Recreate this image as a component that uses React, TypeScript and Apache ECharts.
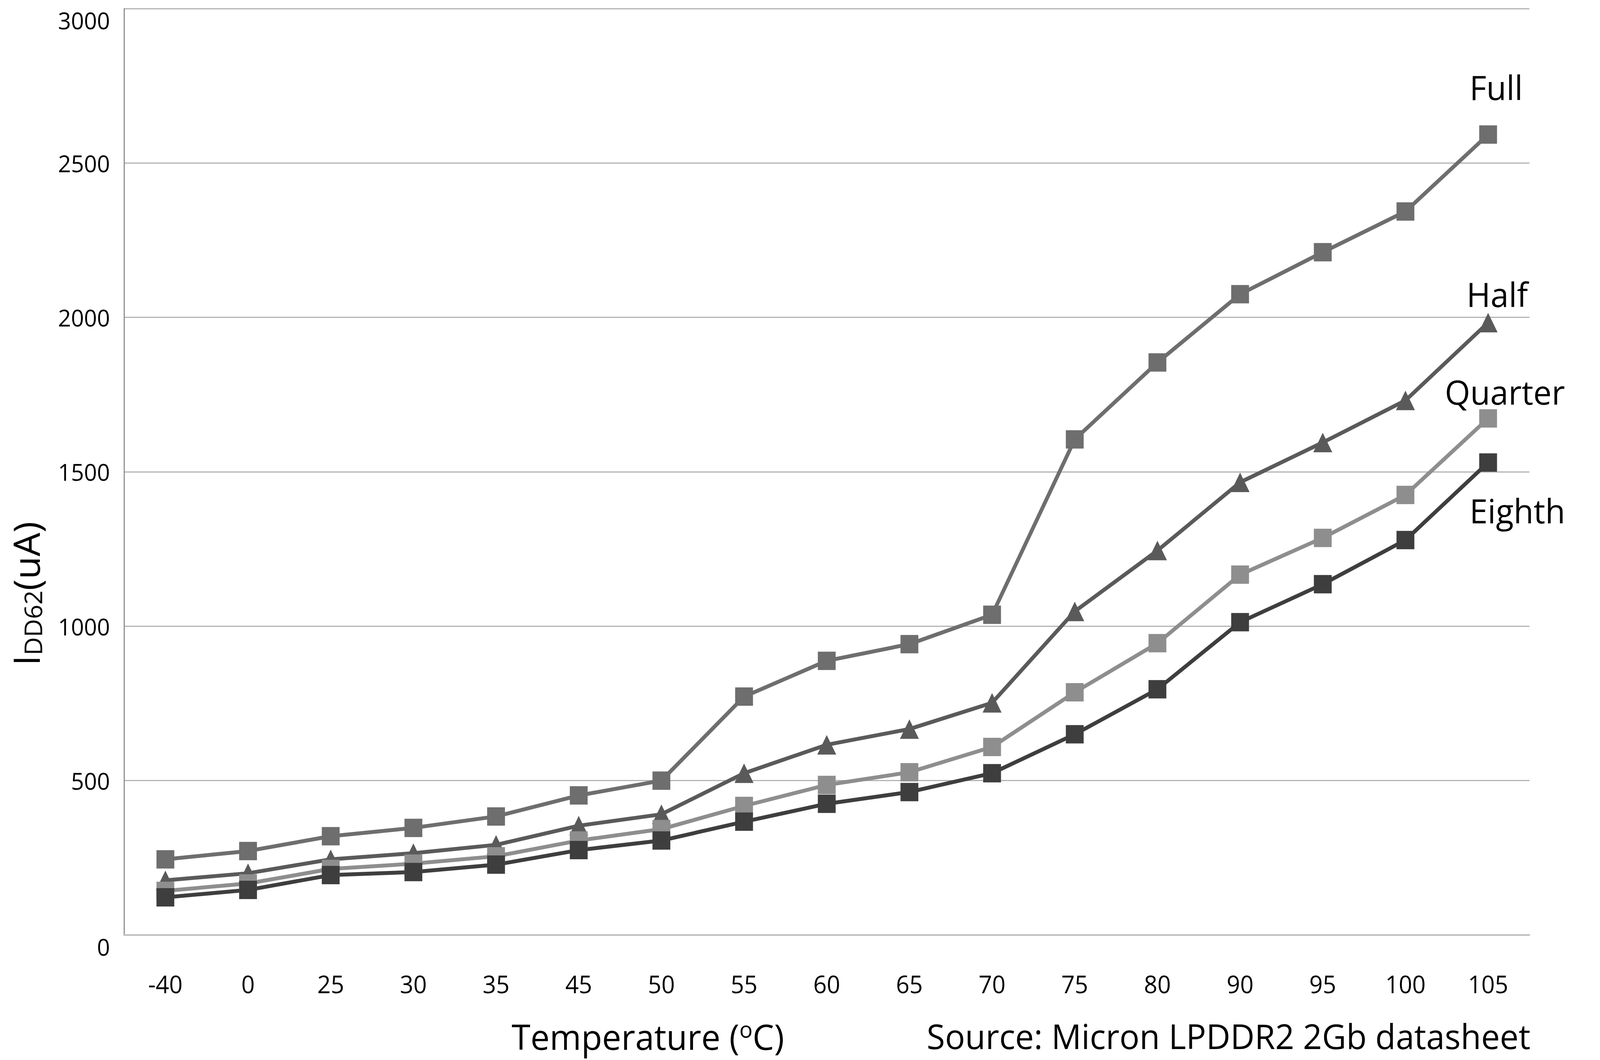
import React, { useEffect, useRef, useState } from "react";
import * as echarts from "echarts";

const categories = ["-40", "0", "25", "30", "35", "45", "50", "55", "60", "65", "70", "75", "80", "90", "95", "100", "105"];
const fullRefresh = [245, 272, 320, 347, 384, 452, 500, 772, 888, 942, 1037, 1605, 1854, 2075, 2211, 2343, 2592];
const halfRefresh = [177, 200, 245, 265, 292, 354, 391, 524, 616, 667, 752, 1048, 1245, 1466, 1595, 1731, 1983];
const quarterRefresh = [143, 167, 214, 231, 255, 306, 343, 418, 486, 527, 609, 786, 945, 1167, 1286, 1425, 1673];
const eighthRefresh = [122, 146, 194, 204, 228, 275, 306, 367, 425, 463, 524, 650, 796, 1013, 1136, 1279, 1530];
const seriesNames = ["Full", "Half", "Quarter", "Eighth"];
const yTicks = { min: 0, max: 3000, interval: 500 };

const FONT = "'Open Sans', 'Noto Sans', sans-serif";
const BASE_W = 4218;
const BASE_H = 2714;

function viewportScale(): [number, number] {
  const w = document.documentElement.clientWidth || window.innerWidth || BASE_W;
  const h = document.documentElement.clientHeight || window.innerHeight || BASE_H;
  return [Math.min(1, w / BASE_W), Math.min(1, h / BASE_H)];
}

export default function App() {
  const ref = useRef<HTMLDivElement>(null);
  const [scale, setScale] = useState<[number, number]>(() => viewportScale());

  useEffect(() => {
    const onResize = () => setScale(viewportScale());
    window.addEventListener("resize", onResize);
    return () => window.removeEventListener("resize", onResize);
  }, []);

  useEffect(() => {
    if (!ref.current) return;
    const chart = echarts.init(ref.current, null, { renderer: "svg" });

    const mk = (name: string, data: number[], color: string, symbol: string, size: number) => ({
      name,
      type: "line",
      data,
      symbol,
      symbolSize: size,
      showAllSymbol: true,
      lineStyle: { color, width: 10 },
      itemStyle: { color, borderWidth: 0 },
      emphasis: { disabled: true },
    });

    const labelStyle = (text: string, x: number, y: number) => ({
      type: "text",
      x,
      y,
      style: {
        text,
        font: `86px ${FONT}`,
        fill: "#000",
        align: "left",
        verticalAlign: "middle",
        textAlign: "left",
        textVerticalAlign: "middle",
      },
    });

    chart.setOption({
      animation: false,
      backgroundColor: "#fff",
      grid: { left: 327, top: 22, width: 3705, height: 2372, containLabel: false },
      xAxis: {
        type: "category",
        data: categories,
        boundaryGap: true,
        axisLine: { show: true, lineStyle: { color: "#bdbdbd", width: 4 } },
        axisTick: { show: false },
        axisLabel: { color: "#000", fontSize: 62, fontFamily: FONT, margin: 94, interval: 0 },
        splitLine: { show: false },
      },
      yAxis: {
        type: "value",
        min: yTicks.min,
        max: yTicks.max,
        interval: yTicks.interval,
        axisLine: { show: true, lineStyle: { color: "#8c8c8c", width: 3 } },
        axisTick: { show: false },
        axisLabel: {
          color: "#000",
          fontSize: 60,
          fontFamily: FONT,
          margin: 37,
          verticalAlignMaxLabel: "top",
          verticalAlignMinLabel: "top",
          formatter: (v: number) => String(v),
        },
        splitLine: { show: true, lineStyle: { color: "#b4b4b4", width: 3 } },
      },
      series: [
        mk(seriesNames[0], fullRefresh, "#6e6e6e", "rect", 47),
        mk(seriesNames[1], halfRefresh, "#5a5a5a", "triangle", 50),
        mk(seriesNames[2], quarterRefresh, "#8e8e8e", "rect", 47),
        mk(seriesNames[3], eighthRefresh, "#3e3e3e", "rect", 47),
      ],
      graphic: [
        labelStyle(seriesNames[0], 3874, 223),
        labelStyle(seriesNames[1], 3866, 753),
        labelStyle(seriesNames[2], 3809, 1003),
        labelStyle(seriesNames[3], 3874, 1307),
        {
          type: "text",
          x: 68,
          y: 1520,
          rotation: Math.PI / 2,
          style: {
            text: "{m|I}{s|DD62}{m|(uA)}",
            fill: "#000",
            align: "center",
            verticalAlign: "middle",
            textAlign: "center",
            textVerticalAlign: "middle",
            font: `96px ${FONT}`,
            rich: {
              m: { fontSize: 96, fontFamily: FONT, lineHeight: 96, verticalAlign: "top", fill: "#000" },
              s: { fontSize: 64, fontFamily: FONT, lineHeight: 64, padding: [34, 0, 0, 0], verticalAlign: "top", fill: "#000" },
            },
          },
        },
        {
          type: "text",
          x: 1708,
          y: 2652,
          style: {
            text: "{m|Temperature (}{p|o}{m|C)}",
            fill: "#000",
            align: "center",
            verticalAlign: "middle",
            textAlign: "center",
            textVerticalAlign: "middle",
            font: `90px ${FONT}`,
            rich: {
              m: { fontSize: 90, fontFamily: FONT, lineHeight: 92, verticalAlign: "bottom", fill: "#000" },
              p: { fontSize: 58, fontFamily: FONT, lineHeight: 36, verticalAlign: "top", fill: "#000" },
            },
          },
        },
        {
          type: "text",
          x: 2443,
          y: 2652,
          style: {
            text: "Source: Micron LPDDR2 2Gb datasheet",
            fill: "#000",
            font: `88px ${FONT}`,
            align: "left",
            verticalAlign: "middle",
            textAlign: "left",
            textVerticalAlign: "middle",
          },
        },
      ],
    });

    return () => chart.dispose();
  }, []);

  return (
    <div
      style={{
        position: "fixed",
        left: 0,
        top: 0,
        width: BASE_W * scale[0],
        height: BASE_H * scale[1],
        overflow: "hidden",
        background: "#fff",
      }}
    >
      <div
        ref={ref}
        style={{
          position: "absolute",
          left: 0,
          top: 0,
          width: BASE_W,
          height: BASE_H,
          transform: `scale(${scale[0]}, ${scale[1]})`,
          transformOrigin: "0 0",
          background: "#fff",
        }}
      />
    </div>
  );
}
